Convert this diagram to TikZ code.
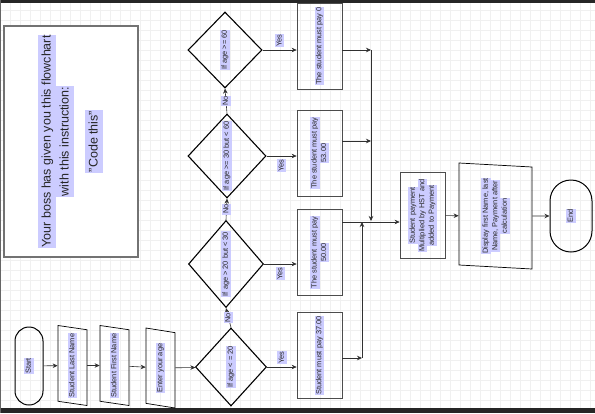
\documentclass[tikz,border=0pt]{standalone}
\usepackage{fontspec}
\setmainfont{Liberation Sans}
\usepackage{xcolor}
\usepackage{tikz}
\usetikzlibrary{arrows.meta,shapes.geometric,shapes.misc}
\definecolor{hilite}{HTML}{CCCCFF}
\definecolor{wire}{HTML}{303030}
\newcommand{\hlt}[1]{{\setlength{\fboxsep}{0pt}\colorbox{hilite}{\kern0.6pt\strut#1\kern0.6pt}}}

\begin{document}
\begin{tikzpicture}[x=1pt,y=-1pt,>={Stealth[length=5pt,width=4.5pt]},
  lbl/.style={font=\fontsize{7.4}{9.5}\selectfont,align=center,text=black!85,rotate=90,inner sep=0pt},
  term/.style={lbl,rounded rectangle,draw,line width=1pt},
  iobox/.style={lbl,trapezium,trapezium stretches body,draw,line width=0.7pt},
  decide/.style={lbl,diamond,aspect=1.2,draw,line width=1.1pt},
  procbox/.style={lbl,rectangle,draw=black!70,line width=0.7pt,minimum width=86,minimum height=45},
  flow/.style={->,draw=wire,line width=0.6pt}]
  \useasboundingbox (0,0) rectangle (595,413);
  \fill[white] (0,0) rectangle (595,413);
  \draw[black!6,line width=0.3pt,step=10pt] (0,413) grid (595,0);
  \fill[black!85] (0,0) rectangle (595,2.5);
  \fill[black!85] (0,407.5) rectangle (595,413);
  \fill[black!60] (0,0) rectangle (1,413);
  \node[lbl,draw=black!55,line width=2pt,fill=white,minimum width=231,minimum height=134,font=\fontsize{12.5}{18}\selectfont] (boss) at (70.5,141.5) {\hlt{Your boss has given you this flowchart}\\\hlt{with this instruction:}\\[11pt]\hlt{"Code this"}};
  \node[term,minimum width=78,minimum height=28] (start) at (29,366) {\hlt{Start}};
  \node[iobox,trapezium left angle=66,trapezium right angle=114,minimum width=80,minimum height=29] (lastname) at (72.5,365.5) {\makebox[0pt]{\hlt{Student Last Name}}};
  \node[iobox,trapezium left angle=66,trapezium right angle=114,minimum width=80,minimum height=29] (firstname) at (114.5,365.5) {\makebox[0pt]{\hlt{Student First Name}}};
  \node[iobox,trapezium left angle=64,trapezium right angle=116,minimum width=80,minimum height=29] (age) at (160.5,368) {\hlt{Enter your age}};
  \node[decide,minimum width=78,minimum height=71] (ifa) at (231,367) {\hlt{If age < = 20}};
  \node[decide,minimum width=87,minimum height=75] (ifb) at (226,264) {\hlt{If age > 20 but < 30}};
  \node[decide,minimum width=84,minimum height=78] (ifc) at (227,156) {\hlt{If age >= 30 but < 60}};
  \node[decide,minimum width=76,minimum height=74] (ifd) at (225,50) {\hlt{If age >= 60}};
  \node[procbox] (pay37) at (319.5,355.5) {\hlt{Student must pay 37.00}};
  \node[procbox] (pay50) at (319.5,252.5) {\hlt{The student must pay}\\\hlt{50.00}};
  \node[procbox] (pay53) at (319.5,153) {\hlt{The student must pay}\\\hlt{53.00}};
  \node[procbox] (pay0) at (319.5,46) {\hlt{The student must pay 0}};
  \node[procbox] (hst) at (422.5,215.5) {\hlt{Student payment}\\\hlt{Multiplied by HST and}\\\hlt{added to Payment}};
  \node[iobox,trapezium left angle=82,trapezium right angle=98,minimum width=106,minimum height=73] (show) at (495.5,216) {\hlt{Display first Name, last}\\\hlt{Name, Payment after}\\\hlt{calculation}};
  \node[term,minimum width=72,minimum height=42] (end) at (571,216) {\hlt{End}};
  \coordinate (j0) at (371,50);
  \coordinate (j53) at (371,141);
  \coordinate (jmid) at (371,221);
  \coordinate (jlow) at (362,358);
  \coordinate (jup) at (362,222);
  \draw[flow] (start) -- (lastname);
  \draw[flow] (lastname) -- (firstname);
  \draw[flow] (firstname) -- (age);
  \draw[flow] (age) -- (ifa);
  \draw[flow] (ifa) -- (ifa -| pay37.north) node[lbl,midway,anchor=west,outer sep=3pt] {\hlt{Yes}};
  \draw[flow] (ifb) -- (ifb -| pay50.north) node[lbl,midway,anchor=east,outer sep=3pt] {\hlt{Yes}};
  \draw[flow] (ifc) -- (ifc -| pay53.north) node[lbl,midway,anchor=east,outer sep=3pt] {\hlt{Yes}};
  \draw[flow] (ifd) -- (ifd -| pay0.north) node[lbl,midway,anchor=west,outer sep=3pt] {\hlt{Yes}};
  \draw[flow] (ifa.east) -- (ifb.west) node[lbl,midway] {\hlt{No}};
  \draw[flow] (ifb.east) -- (ifc.west) node[lbl,midway] {\hlt{No}};
  \draw[flow] (ifc.east) -- (ifd.west) node[lbl,midway] {\hlt{No}};
  \draw[flow] (pay0.south |- j0) -- (j0);
  \draw[flow] (pay53.south |- j53) -- (j53);
  \draw[flow] (j0) -- (jmid);
  \draw[flow] (pay50.south |- jup) -- (jup -| hst.north);
  \draw[flow] (pay37.south |- jlow) -- (jlow);
  \draw[flow] (jlow) -- (jup);
  \draw[flow] (hst) -- (show);
  \draw[flow] (show) -- (end);
\end{tikzpicture}
\end{document}
